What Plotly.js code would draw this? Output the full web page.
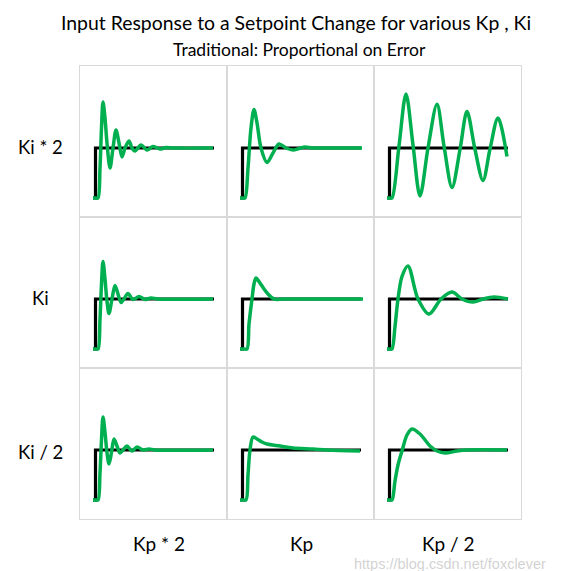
<!DOCTYPE html>
<html>
<head>
<meta charset="utf-8">
<script src="https://cdn.plot.ly/plotly-3.0.1.min.js"></script>
<style>html,body{margin:0;padding:0;background:#fff;}#chart{width:567px;height:571px;}</style>
</head>
<body>
<div id="chart"></div>
<script>
// Row labels (top to bottom) and column labels (left to right)
const rowLabels = ["Ki * 2", "Ki", "Ki / 2"];
const colLabels = ["Kp * 2", "Kp", "Kp / 2"];

// Setpoint step (normalized: 0 = start, 1 = setpoint)
const spT = [0, 2.5, 2.5, 121];
const spY = [0, 0, 1, 1];

// Green input responses (time, normalized value)
// Row Ki*2
const t11 = [0,3,5,7,8.5,10,12,14,17,20,23,26,29,32,36,39,42,48,54,60,67,73,80,120];
const y11 = [0,0,0,0.6,1.4,1.92,1.6,1.1,0.6,1.0,1.36,1.1,0.82,1.0,1.14,1.0,0.94,1.06,0.96,1.03,0.98,1.01,1,1];
const t12 = [0,3,5,8,11,14,17,21,27,33,39,46,53,59,65,72,80,122];
const y12 = [0,0,0,0.6,1.4,1.77,1.5,1.0,0.71,0.9,1.08,1.0,0.96,0.99,1.02,1.0,1,1];
const t13 = [0,3,5,12,19,26,33,41,50,57,65,73,80,88,96,103,111,120];
const y13 = [0,0,0,1.04,2.08,1.06,0.04,1.0,1.875,1.04,0.21,0.97,1.73,0.97,0.35,0.98,1.6,0.83];
// Row Ki
const t21 = [0,3,5,7,8.5,10,12,14,16,19,22,25,28,31,35,40,46,52,58,65,120];
const y21 = [0,0,0,0.6,1.3,1.75,1.4,0.95,0.71,1.0,1.27,1.1,0.93,1.0,1.11,0.99,1.05,0.99,1.02,1,1];
const t22 = [0,4,7,9,12,14,16,20,23,28,34,45,123];
const y22 = [0,0,0,0.5,1.0,1.3,1.42,1.32,1.23,1.10,1.0,1,1];
const t23 = [0,3,5,8,11,15,21,31,42,54,65,75,86,96,107,121];
const y23 = [0,0,0,0.45,1.0,1.45,1.66,1.0,0.7,1.0,1.14,1.0,0.94,1.0,1.04,1.0];
// Row Ki/2
const t31 = [0,3,5,7,8.5,10,12,14,16,18.5,21,24,27,30,34,39,44,50,56,62,120];
const y31 = [0,0,0,0.55,1.2,1.66,1.35,0.95,0.72,0.95,1.22,1.08,0.94,1.0,1.08,0.98,1.06,1.0,1.02,1,1];
const t32 = [0,3,6,8,10,13,17,22,27,40,53,73,87,120];
const y32 = [0,0,0,0.5,1.0,1.26,1.22,1.16,1.12,1.08,1.04,1.02,1.0,0.98];
const t33 = [0,3,5,8,11,15,20,25,33,43,50,58,70,80,120];
const y33 = [0,0,0,0.38,0.7,0.98,1.3,1.42,1.32,1.08,0.98,0.94,0.98,1.0,1.0];

const respT = [[t11,t12,t13],[t21,t22,t23],[t31,t32,t33]];
const respY = [[y11,y12,y13],[y21,y22,y23],[y31,y32,y33]];

const W = 567, H = 571;
const colEdges = [80, 227, 374, 521];
const rowEdges = [66, 217, 368, 519];

const traces = [];
const layout = {
  width: W, height: H,
  margin: {l:0, r:0, t:0, b:0},
  paper_bgcolor: '#fff', plot_bgcolor: '#fff',
  showlegend: false,
  font: {family: 'Lato, "Open Sans", sans-serif', color: '#000'},
  annotations: []
};

for (let r = 0; r < 3; r++) {
  for (let c = 0; c < 3; c++) {
    const k = r*3 + c + 1;
    const xa = k === 1 ? 'x' : 'x' + k;
    const ya = k === 1 ? 'y' : 'y' + k;
    const axCommon = {
      showgrid: false, zeroline: false, showticklabels: false, ticks: '',
      showline: true, mirror: true, linecolor: '#d9d9d9', linewidth: 1, fixedrange: true
    };
    layout[k === 1 ? 'xaxis' : 'xaxis' + k] = Object.assign({}, axCommon, {
      domain: [colEdges[c]/W, colEdges[c+1]/W], range: [-13, 134], anchor: ya
    });
    layout[k === 1 ? 'yaxis' : 'yaxis' + k] = Object.assign({}, axCommon, {
      domain: [1 - rowEdges[r+1]/H, 1 - rowEdges[r]/H], range: [-0.38, 2.64], anchor: xa
    });
    traces.push({
      x: spT, y: spY, xaxis: xa, yaxis: ya, type: 'scatter', mode: 'lines',
      line: {color: '#000', width: 3.2}, hoverinfo: 'skip'
    });
    traces.push({
      x: respT[r][c], y: respY[r][c], xaxis: xa, yaxis: ya, type: 'scatter', mode: 'lines',
      line: {color: '#00b050', width: 3.5, shape: 'spline', smoothing: 0.9}, hoverinfo: 'skip'
    });
  }
}

// Titles
layout.annotations.push({
  text: 'Input Response to a Setpoint Change for various Kp , Ki',
  xref: 'paper', yref: 'paper', x: 296/W, y: 1 - 23/H, xanchor: 'center', yanchor: 'middle',
  showarrow: false, font: {size: 19.4, color: '#000'}
});
layout.annotations.push({
  text: 'Traditional: Proportional on Error',
  xref: 'paper', yref: 'paper', x: 299/W, y: 1 - 50/H, xanchor: 'center', yanchor: 'middle',
  showarrow: false, font: {size: 17.5, color: '#000'}
});
// Row labels
const rowLabelY = [147, 298, 452];
rowLabels.forEach((t, i) => layout.annotations.push({
  text: t, xref: 'paper', yref: 'paper', x: 40/W, y: 1 - rowLabelY[i]/H,
  xanchor: 'center', yanchor: 'middle', showarrow: false, font: {size: 18.5}
}));
// Column labels
const colLabelX = [159, 301, 448];
colLabels.forEach((t, i) => layout.annotations.push({
  text: t, xref: 'paper', yref: 'paper', x: colLabelX[i]/W, y: 1 - 543/H,
  xanchor: 'center', yanchor: 'middle', showarrow: false, font: {size: 19}, borderpad: 0
}));
// Watermark
layout.annotations.push({
  text: 'https://blog.csdn.net/foxclever',
  xref: 'paper', yref: 'paper', x: 450/W, y: 1 - 564/H, xanchor: 'center', yanchor: 'middle',
  showarrow: false, borderpad: 0,
  font: {size: 14.5, family: 'Liberation Sans, Arial, sans-serif', color: 'rgba(190,190,190,0.7)'}
});

Plotly.newPlot('chart', traces, layout, {displayModeBar: false, staticPlot: true});
</script>
</body>
</html>
